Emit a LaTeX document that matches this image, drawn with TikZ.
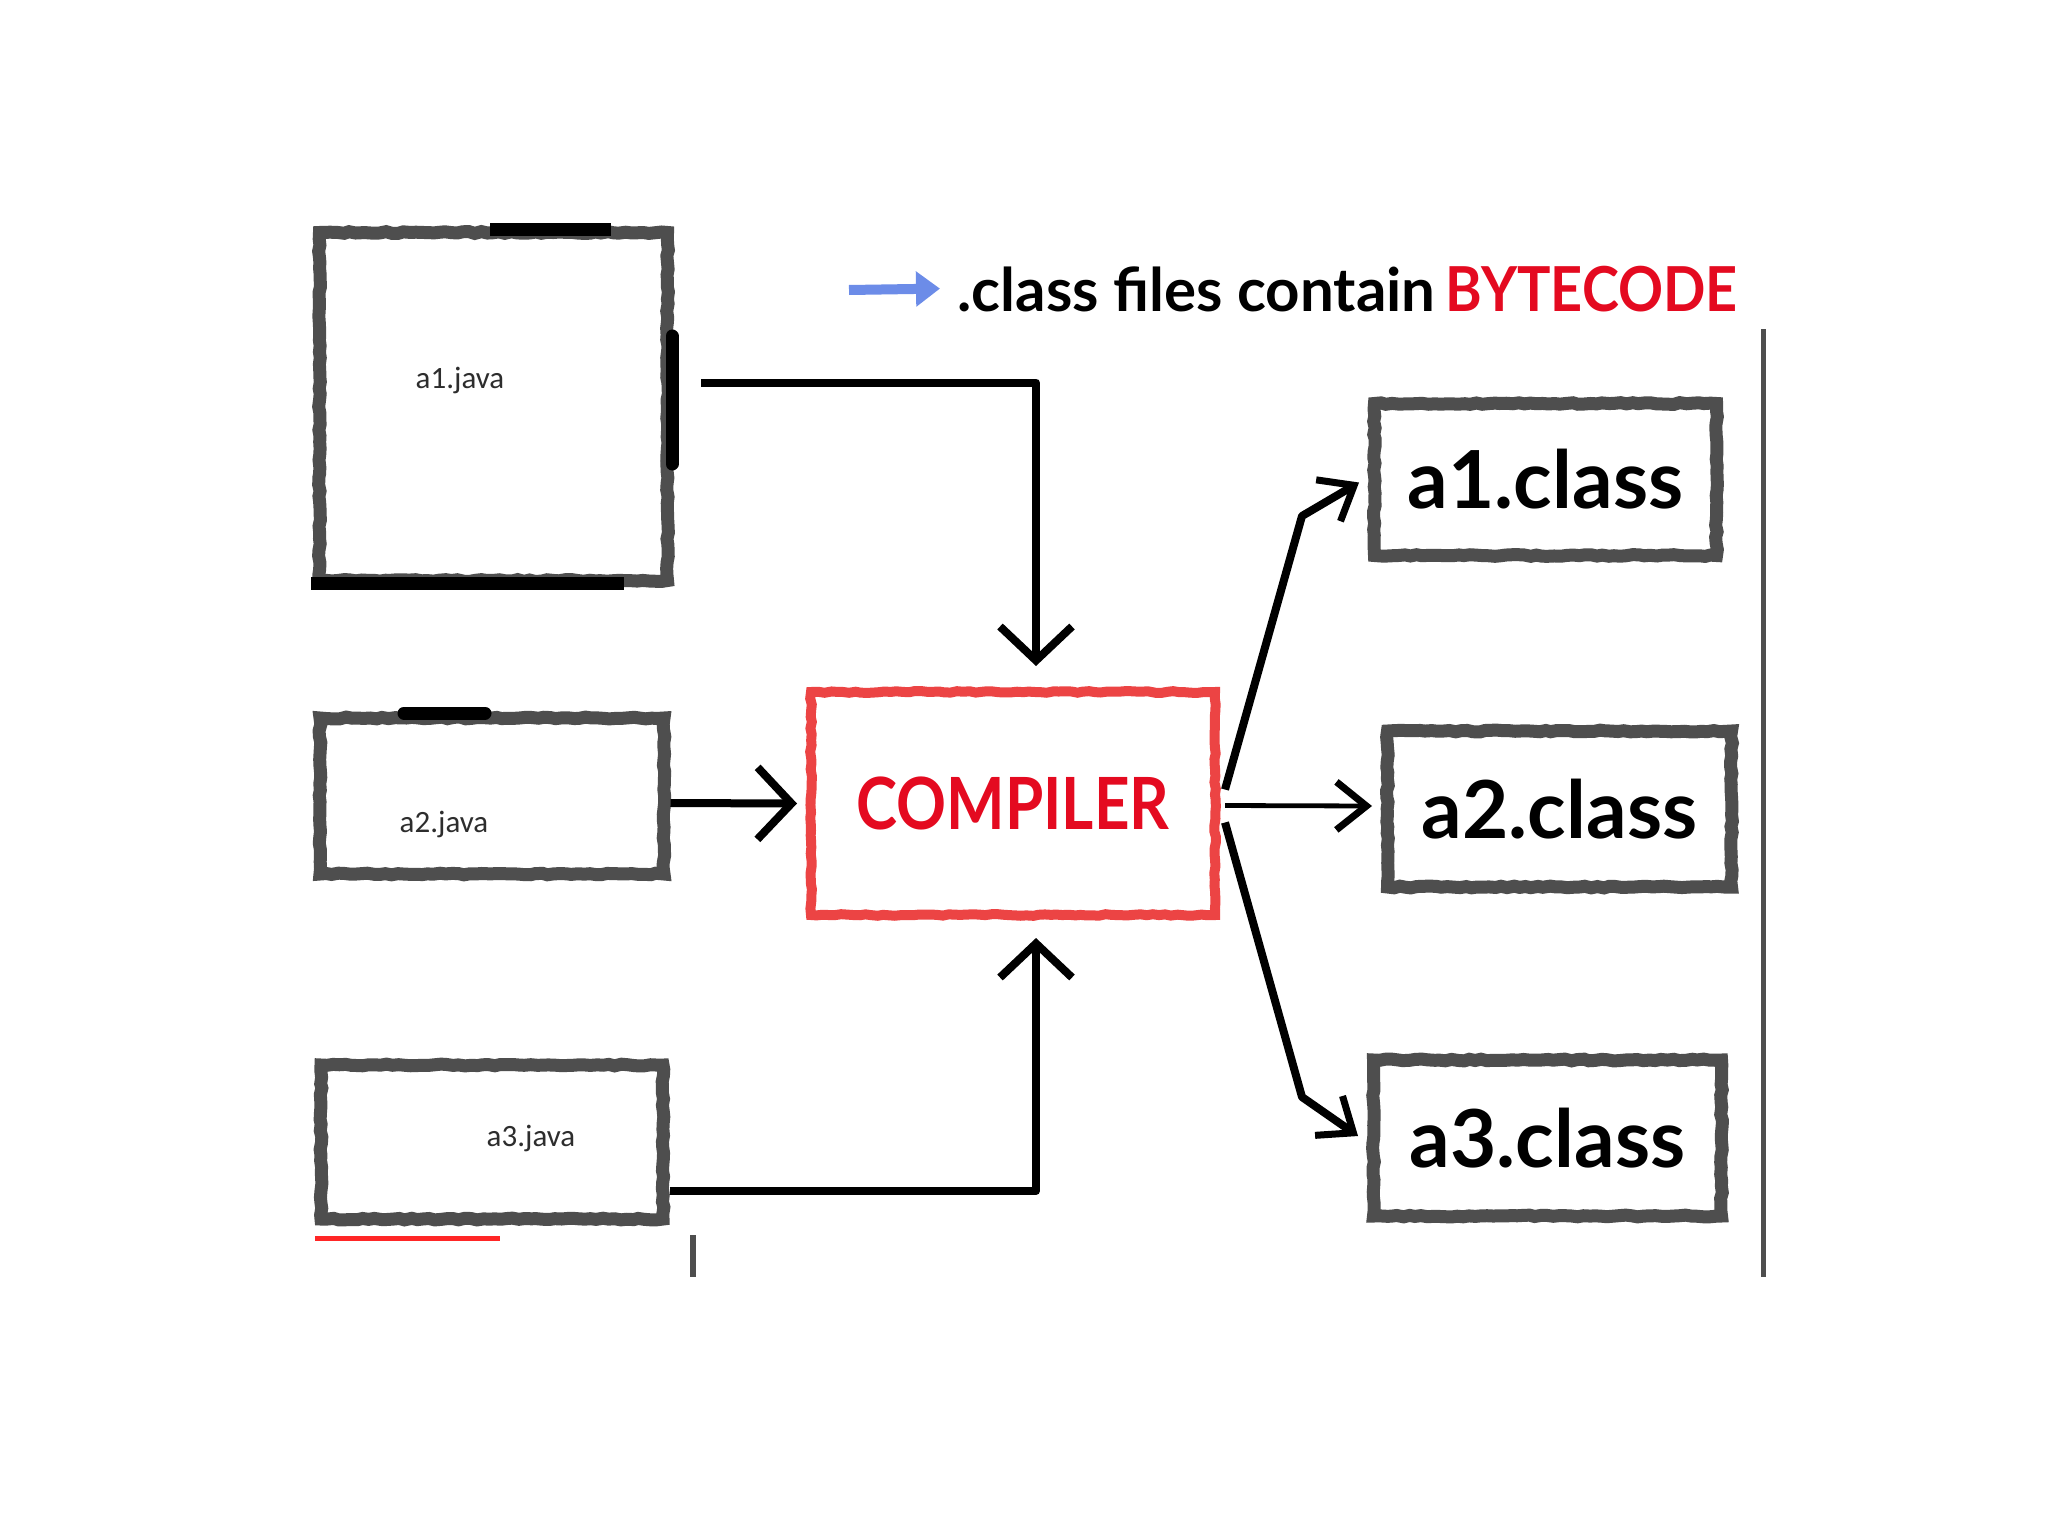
\documentclass[tikz,border=0pt]{standalone}
\usepackage{fontspec}
\setmainfont{Lato}
\newfontfamily\javafont{Carlito}
\newfontfamily\classfont{Lato}
\usetikzlibrary{arrows.meta,calc,decorations.pathmorphing}
\definecolor{boxgray}{RGB}{78,78,78}
\definecolor{compred}{RGB}{236,68,68}
\definecolor{textred}{RGB}{228,10,32}
\definecolor{hdrblue}{RGB}{108,140,232}
\definecolor{javatext}{RGB}{45,45,45}
\tikzset{
  rough/.style={decorate, decoration={random steps, segment length=3pt, amplitude=0.45pt}},
  filebox/.style={draw=boxgray, line width=6.5pt, rough, inner sep=0pt},
  compbox/.style={draw=compred, line width=5pt, rough, inner sep=0pt,
     font=\bfseries\fontsize{36}{40}\selectfont, text=textred},
  classbox/.style={draw=boxgray, line width=6.5pt, rough, inner sep=0pt,
     font=\classfont\bfseries\fontsize{40}{44}\selectfont},
  javalabel/.style={font=\javafont\fontsize{15.5}{18}\selectfont, text=javatext, inner sep=0pt},
  conn/.style={line width=4pt, line join=round, -{Straight Barb[length=17pt,width=36pt,line width=4pt]}},
  outconn/.style={line width=4pt, line join=round, -{Straight Barb[length=15pt,width=24pt,line width=3.5pt]}},
  midconn/.style={line width=2.4pt, -{Straight Barb[length=15pt,width=24pt,line width=3.5pt]}},
  overlay bar/.style={line width=6.5pt, black},
}
\begin{document}
\begin{tikzpicture}[x=0.5pt,y=-0.5pt]
\pgfmathsetseed{7}
\useasboundingbox[fill=white] (0,0) rectangle (2048,1536);

% source files
\node[filebox, minimum width=174pt, minimum height=174pt] (a1) at (493.5,406.5) {};
\node[filebox, minimum width=172pt, minimum height=78pt] (a2) at (492,796) {};
\node[filebox, minimum width=171pt, minimum height=77pt] (a3) at (492,1142) {};
\node[javalabel] (a1t) at (460,380) {a1.java};
\node[javalabel] (a2t) at (444,824) {a2.java};
\node[javalabel] (a3t) at (531,1138) {a3.java};

% overlay marks on boxes
\draw[overlay bar] (490,229) -- (611,229);
\draw[overlay bar, line cap=round] (672,336) -- (672,464);
\draw[overlay bar] (311,583) -- (624,583);
\draw[overlay bar, line cap=round] (404,713) -- (485,713);
\draw[line width=2.5pt, red!85!white] (315,1238) -- (500,1238);

% compiler
\node[compbox, minimum width=202pt, minimum height=111.5pt] (comp) at (1013,803.5) {\scalebox{0.86}[1]{COMPILER}};

% class files
\node[classbox, minimum width=171pt, minimum height=76pt] (c1) at (1545.5,479.5) {a1.class};
\node[classbox, minimum width=172pt, minimum height=78pt] (c2) at (1559.5,809) {a2.class};
\node[classbox, minimum width=174pt, minimum height=78pt] (c3) at (1547.5,1138) {a3.class};

% header
\node[anchor=base west, inner sep=0pt, font=\bfseries\fontsize{30}{33}\selectfont] (hdr) at (957,311)
  {.class files contain \hspace{-2pt}{\color{textred}\scalebox{0.9}[1]{\fontsize{31}{33}\selectfont BYTECODE}}};
\coordinate (hdrstart) at (849,290);
\draw[line width=5pt, hdrblue, -{Triangle[length=12pt,width=17pt]}] (hdrstart) -- ($(hdr.west)+(-17,0)$ |- hdrstart);

% stray vertical lines
\coordinate (vr1) at (1763,329);
\coordinate (vr2) at (1763,1277);
\draw[line width=2.5pt, boxgray] (vr1) -- (vr2);
\coordinate (vl1) at (693,1235);
\coordinate (vl2) at (693,1277);
\draw[line width=3pt, boxgray] (vl1) -- (vl2);

% connectors into compiler
\draw[conn] ($(a1.east)+(27,-24)$) -| ($(comp.north)+(23,-21)$);
\draw[conn] (a2.east |- 0,803) -- ($(comp.west)+(-9,0)$);
\draw[conn] ($(a3.east)+(0,49)$) -| ($(comp.south)+(23,18)$);

% connectors out of compiler
\coordinate (k1) at (1302,516);
\coordinate (k3) at (1302,1097);
\draw[outconn] ($(comp.east)+(5,-14)$) -- (k1) -- ($(c1.west)+(-9,3)$);
\draw[midconn] ($(comp.east)+(5,2)$) -- ($(c2.west)+(-9,-3)$);
\draw[outconn] ($(comp.east)+(5,19)$) -- (k3) -- ($(c3.west)+(-9,-2)$);
\end{tikzpicture}
\end{document}
